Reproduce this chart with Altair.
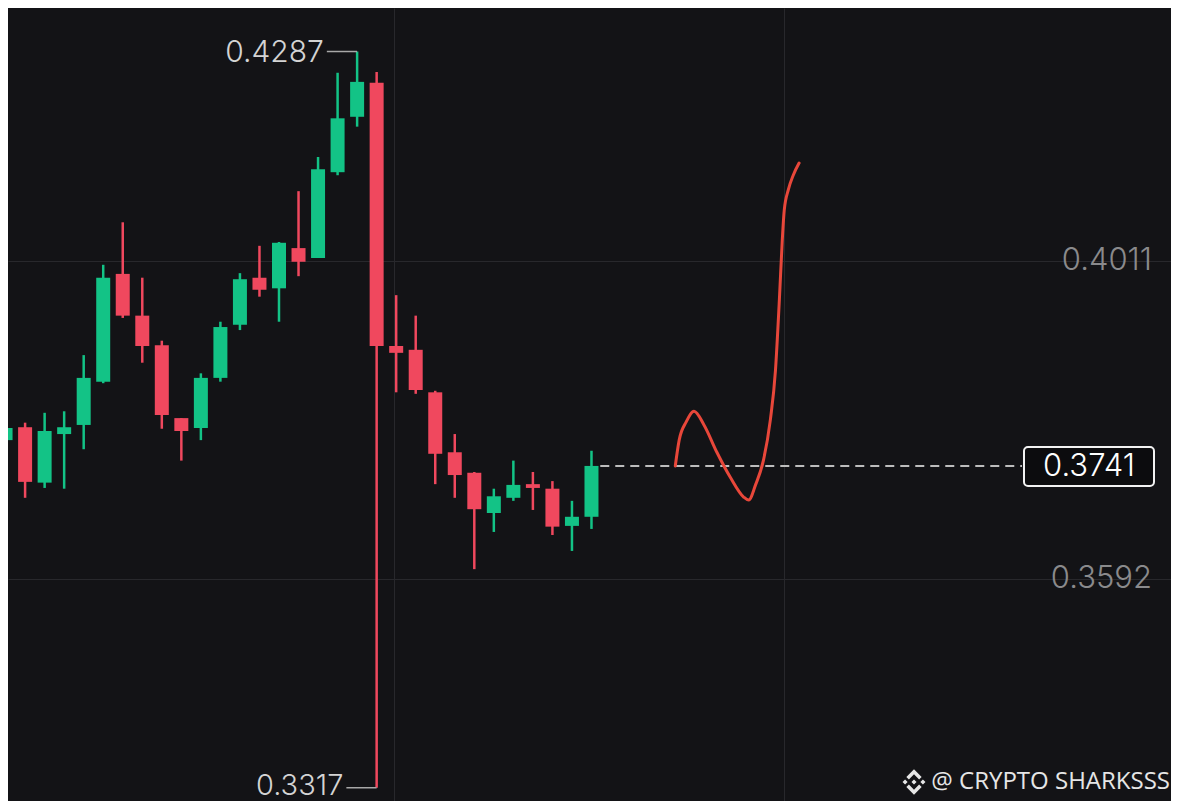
import altair as alt
import pandas as pd

# ---- data ----
idx = list(range(31))
opens = [0.3775, 0.3792, 0.3719, 0.3783, 0.3795, 0.3852, 0.3994, 0.3939, 0.3900, 0.3804,
         0.3791, 0.3857, 0.3927, 0.3989, 0.3975, 0.4028, 0.4015, 0.4128, 0.4201, 0.4246,
         0.3899, 0.3894, 0.3838, 0.3759, 0.3732, 0.3679, 0.3699, 0.3717, 0.3711, 0.3662, 0.3674]
highs = [0.3806, 0.3798, 0.3811, 0.3813, 0.3887, 0.4006, 0.4062, 0.3989, 0.3906, 0.3804,
         0.3863, 0.3931, 0.3995, 0.4031, 0.4036, 0.4103, 0.4148, 0.4259, 0.4287, 0.4260,
         0.3966, 0.3939, 0.3840, 0.3783, 0.3733, 0.3711, 0.3748, 0.3733, 0.3721, 0.3695, 0.3761]
lows = [0.3725, 0.3699, 0.3712, 0.3711, 0.3763, 0.3850, 0.3936, 0.3877, 0.3790, 0.3748,
        0.3775, 0.3852, 0.3920, 0.3964, 0.3931, 0.3991, 0.4015, 0.4124, 0.4188, 0.3317,
        0.3838, 0.3836, 0.3717, 0.3699, 0.3605, 0.3654, 0.3695, 0.3683, 0.3650, 0.3629, 0.3658]
closes = [0.3791, 0.3720, 0.3787, 0.3792, 0.3857, 0.3989, 0.3939, 0.3899, 0.3808, 0.3787,
          0.3857, 0.3924, 0.3987, 0.3973, 0.4035, 0.4010, 0.4132, 0.4199, 0.4247, 0.3899,
          0.3890, 0.3841, 0.3757, 0.3729, 0.3684, 0.3701, 0.3716, 0.3712, 0.3661, 0.3674, 0.3741]

axis_levels = [0.4011, 0.3592]
vgrid_at = [19.87, 39.87]

# hand-drawn red projection (bar index, price)
draw_x = [34.29, 34.49, 34.85, 35.25, 35.76, 36.42, 37.13, 37.79, 38.05, 38.40,
          38.81, 39.16, 39.42, 39.62, 39.77, 39.87, 40.08, 40.33, 40.63]
draw_y = [0.3741, 0.3775, 0.3799, 0.3813, 0.3795, 0.3759, 0.3725, 0.3700, 0.3696, 0.3716,
          0.3749, 0.3802, 0.3867, 0.3960, 0.4039, 0.4078, 0.4105, 0.4124, 0.4140]

watermark = "@ CRYPTO SHARKSSS"

# ---- styling ----
UP = "#13c386"
DOWN = "#f0485e"
BG = "#131316"
GRID = "#28282c"
FONT = "Inter"
W, H = 1163, 793

df = pd.DataFrame(dict(i=idx, open=opens, high=highs, low=lows, close=closes))
df["dir"] = ["up" if c >= o else "down" for o, c in zip(opens, closes)]

xs = alt.Scale(domain=[0.3807, 59.416], nice=False, zero=False)
ys = alt.Scale(domain=[0.329954, 0.434433], nice=False, zero=False)
xaxis = alt.Axis(values=vgrid_at, grid=True, gridColor=GRID, gridWidth=1, labels=False,
                 ticks=False, domain=False, title=None)
yaxis = alt.Axis(values=axis_levels, grid=True, gridColor=GRID, gridWidth=1, labels=False,
                 ticks=False, domain=False, title=None)


def X(f):
    return alt.X(f, type="quantitative", scale=xs, axis=xaxis)


def Y(f):
    return alt.Y(f, type="quantitative", scale=ys, axis=yaxis)


color = alt.Color("dir:N", scale=alt.Scale(domain=["up", "down"], range=[UP, DOWN]), legend=None)

base = alt.Chart(df)
wicks = base.mark_rule(strokeWidth=2.5).encode(x=X("i"), y=Y("low"), y2="high", color=color)
bodies = base.mark_bar(size=14).encode(x=X("i"), y=Y("open"), y2="close", color=color)

# high / low annotations
hi_i = max(idx, key=lambda k: highs[k])
lo_i = min(idx, key=lambda k: lows[k])
ann = pd.DataFrame({
    "i": [hi_i, lo_i],
    "v": [highs[hi_i], lows[lo_i]],
    "kind": ["high", "low"],
})
ann["xs"] = ann["i"] - 1.55
ann["t"] = [f"{v:.4f}" for v in ann["v"]]
ann_line = alt.Chart(ann).mark_rule(color="#a8a8a8", strokeWidth=1.5).encode(
    x=X("xs"), x2="i", y=Y("v"))
ann_hi = alt.Chart(ann).transform_filter(alt.datum.kind == "high").mark_text(
    align="right", baseline="middle", fontSize=30, font=FONT, fontWeight=300,
    color="#d4d4d4", dx=-3, dy=1).encode(x=X("xs"), y=Y("v"), text="t:N")
ann_lo = alt.Chart(ann).transform_filter(alt.datum.kind == "low").mark_text(
    align="right", baseline="middle", fontSize=29, font=FONT, fontWeight=300,
    color="#d4d4d4", dx=-3, dy=-2).encode(x=X("xs"), y=Y("v"), text="t:N")

# right-side level labels
lv = pd.DataFrame({"v": axis_levels, "t": [f"{v:.4f}" for v in axis_levels]})
lv_text = alt.Chart(lv).mark_text(align="right", baseline="middle", fontSize=31,
                                  font=FONT, fontWeight=300, color="#8a8a8c").encode(
    x=alt.value(1144), y=Y("v"), text="t:N")

# current price line and box
last = pd.DataFrame({"i": [idx[-1] + 0.45], "v": [closes[-1]], "t": [f"{closes[-1]:.4f}"]})
price_line = alt.Chart(last).mark_rule(color="#bdbdbd", strokeWidth=2, strokeDash=[9, 6]).encode(
    x=X("i"), x2=alt.value(1014), y=Y("v"))
price_box = alt.Chart(last).mark_rect(fill="#0c0c0e", stroke="#f2f2f2", strokeWidth=2,
                                      cornerRadius=4, yOffset=-19, y2Offset=20).encode(
    x=alt.value(1016), x2=alt.value(1146), y=Y("v"), y2="v")
price_text = alt.Chart(last).mark_text(align="center", baseline="middle", fontSize=31,
                                       font=FONT, fontWeight=300, color="#ffffff", dy=1).encode(
    x=alt.value(1081), y=Y("v"), text="t:N")

# hand-drawn red path
dr = pd.DataFrame({"x": draw_x, "y": draw_y, "o": list(range(len(draw_x)))})
drawn = alt.Chart(dr).mark_line(color="#e8473a", strokeWidth=3, interpolate="monotone",
                                strokeCap="round", strokeJoin="round").encode(
    x=X("x"), y=Y("y"), order="o:Q")

# watermark
wm = pd.DataFrame({"t": [watermark]})
wm_text = alt.Chart(wm).mark_text(align="right", baseline="middle", fontSize=24,
                                  font="Open Sans", color="#e6e6e6").encode(
    x=alt.value(1162), y=alt.value(774), text="t:N")
logo_path = ("M0,-0.2 L0.2,0 L0,0.2 L-0.2,0 Z "
             "M-0.9,0 L-0.7,-0.2 L-0.5,0 L-0.7,0.2 Z "
             "M0.5,0 L0.7,-0.2 L0.9,0 L0.7,0.2 Z "
             "M0,-1 L0.6,-0.4 L0.4,-0.2 L0,-0.6 L-0.4,-0.2 L-0.6,-0.4 Z "
             "M0,1 L0.6,0.4 L0.4,0.2 L0,0.6 L-0.4,0.2 L-0.6,0.4 Z")
logo = alt.Chart(wm).mark_point(shape=logo_path, size=650, filled=True, fill="#e6e6e6",
                                opacity=1, strokeWidth=0).encode(
    x=alt.value(906), y=alt.value(774))

chart = alt.layer(
    wicks, bodies, ann_line, ann_hi, ann_lo, lv_text, price_line, drawn,
    price_box, price_text, wm_text, logo
).properties(
    width=W, height=H, background=BG, padding=0,
    autosize=alt.AutoSizeParams(type="none")
).configure_view(strokeWidth=0)

chart.save("out.html", embed_options={"renderer": "svg", "actions": False})
